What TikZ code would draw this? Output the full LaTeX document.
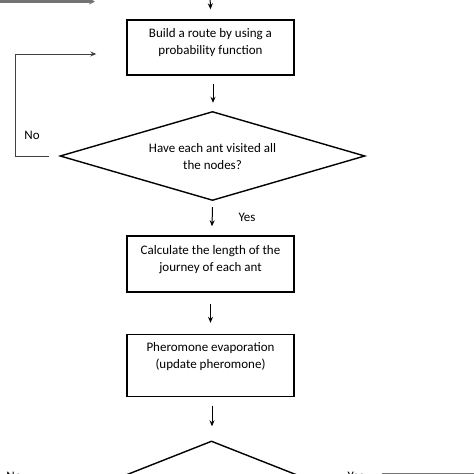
\documentclass[tikz,border=0pt]{standalone}
\usepackage{fontspec}
\setmainfont{Carlito}
\usetikzlibrary{arrows.meta,shapes.geometric}
\begin{document}
\begin{tikzpicture}[x=1pt,y=-1pt,
  box/.style={draw=black,line width=1.4pt,minimum width=167pt,inner sep=0pt},
  txt/.style={align=center,font=\fontsize{13}{17}\selectfont,inner sep=0pt},
  dec/.style={draw=black,line width=1.4pt,shape=diamond,inner sep=0pt},
  arr/.style={line width=1pt,-{Stealth[length=6pt,width=5pt]}},
  back/.style={line width=0.9pt,draw=black!75,-{Stealth[length=6pt,width=5pt]}},
  heavy/.style={line width=3pt,draw=black!55}]
\useasboundingbox (0,0) rectangle (474,474);
\clip (0,0) rectangle (474,474);
\fill[white] (0,0) rectangle (474,474);
% boxes
\node[box,minimum height=55pt] (b1) at (210.5,47.5) {};
\node[txt] (t1) at ([yshift=5pt]b1.center) {Build a route by using a\\probability function};
\node[box,minimum height=56pt] (b2) at (210.5,264) {};
\node[txt] (t2) at ([yshift=4.5pt]b2.center) {Calculate the length of the\\journey of each ant};
\node[box,minimum height=62pt] (b3) at (210.5,365.5) {};
\node[txt] (t3) at ([yshift=8.5pt]b3.center) {Pheromone evaporation\\(update pheromone)};
% diamonds
\node[dec,minimum width=305pt,minimum height=89pt,shape aspect=3.43] (d1) at (212.5,156) {};
\node[txt] (t4) at (212.5,156.5) {Have each ant visited all\\the nodes?};
\node[dec,minimum width=329pt,minimum height=130pt,shape aspect=2.53] (d2) at (211.5,506) {};
% arrows
\coordinate (top) at (210,-5);
\draw[arr] (top) -- ([yshift=10pt]b1.north);
\draw[arr] ([xshift=2.5pt,yshift=-8pt]b1.south) -- ([xshift=0.5pt,yshift=8pt]d1.north);
\draw[arr] ([yshift=-6pt]d1.south) -- ([xshift=1.5pt,yshift=9pt]b2.north);
\draw[arr] ([yshift=-11pt]b2.south) -- ([yshift=11pt]b3.north);
\draw[arr] ([xshift=1.5pt,yshift=-8.5pt]b3.south) -- ([xshift=0.5pt,yshift=14pt]d2.north);
% loop back
\coordinate (lc) at (15,156);
\draw[back] ([xshift=-10pt]d1.west) -- (lc) |- ([xshift=-30pt,yshift=-6.5pt]b1.west);
\node[txt] (no1) at (32,135) {No};
\node[txt] (yes1) at (247,217) {Yes};
% partial elements at the edges
\coordinate (tl) at (-5,1.5);
\coordinate (tr) at (95,1.5);
\draw[heavy,-{Stealth[length=6pt,width=6pt]}] (tl) -- (tr);
\coordinate (br1) at (382,474.5);
\coordinate (br2) at (480,474.5);
\draw[heavy] (br1) -- (br2);
\node[txt] (yes2) at (356,476) {Yes};
\node[txt] (no2) at (14,476) {No};
\end{tikzpicture}
\end{document}
